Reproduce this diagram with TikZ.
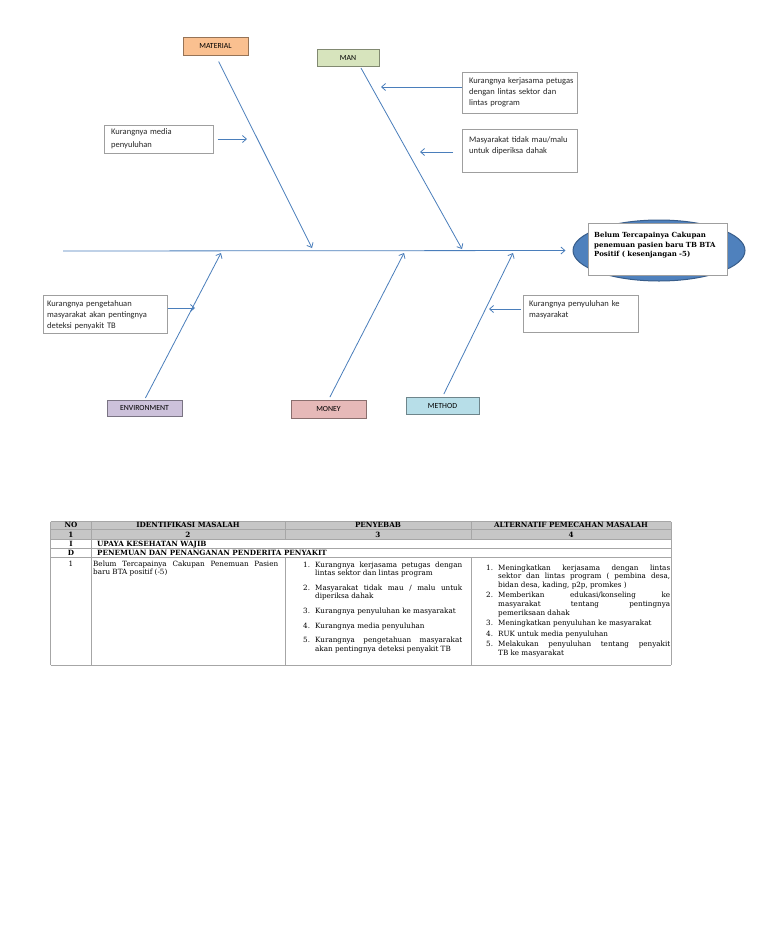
\documentclass[tikz,border=0pt]{standalone}
\usepackage{fontspec}
\setmainfont{Carlito}
\newfontfamily\tabfont{DejaVu Serif}
\usetikzlibrary{arrows.meta,shadows,shapes.geometric}
\definecolor{bonec}{HTML}{4A7EBB}
\definecolor{matfill}{HTML}{FAC090}
\definecolor{manfill}{HTML}{D7E4BD}
\definecolor{envfill}{HTML}{CCC1DA}
\definecolor{monfill}{HTML}{E6B9B8}
\definecolor{metfill}{HTML}{B7DEE8}
\definecolor{effill}{HTML}{4F81BD}
\definecolor{efdraw}{HTML}{385D8A}
\newcommand\lblsz{\fontsize{7.8}{9}\selectfont}
\newcommand\boxsz{\fontsize{8.5}{11}\selectfont}
\newcommand\tsz{\fontsize{7.2}{8.6}\selectfont}
\newcommand\titem[2]{\hangindent=12pt\hangafter=1\noindent\hbox to 12pt{#1\hfil}\ignorespaces#2\par}
\tikzset{
  bone/.style={draw=bonec, line width=0.8pt, -{Straight Barb[length=4pt,width=7pt]}},
  labelbox/.style={draw=#1!60!black, line width=0.5pt, fill=#1, font=\lblsz, inner sep=0pt,
    drop shadow={shadow xshift=1.3pt, shadow yshift=-1.3pt, fill=black!70, opacity=0.9}},
  txtbox/.style={draw=gray!75, line width=0.7pt, fill=white, inner sep=0pt, anchor=north west},
  boxtext/.style={anchor=base west, align=left, inner sep=0pt, font=\boxsz, text=black!85, text width=110},
  tline/.style={draw=gray!70, line width=0.8pt},
  ttext/.style={font=\tabfont\tsz, inner sep=0pt, anchor=base west},
  thead/.style={font=\tabfont\bfseries\tsz, inner sep=0pt, anchor=base},
}
\begin{document}
\begin{tikzpicture}[x=1pt,y=-1pt]
\useasboundingbox (0,0) rectangle (768,932);
\fill[white] (0,0) rectangle (768,932);

% ---------- effect ----------
\node[ellipse, draw=efdraw, line width=1pt, fill=effill, minimum width=172, minimum height=61, inner sep=0pt] (effect) at (659,250.5) {};
\node[txtbox, minimum width=139, minimum height=52] (effbox) at (588,223) {};
\node[anchor=base west, align=left, text width=132, inner sep=0pt, font=\tabfont\bfseries\fontsize{7}{9.7}\selectfont] (efftext) at (594,237.5)
  {Belum Tercapainya Cakupan\\penemuan pasien baru TB BTA\\Positif ( kesenjangan -5)};

% ---------- spine ----------
\coordinate (tail) at (63,251);
\draw[bone, shorten >=7pt] (tail) -- (effect.west);

% ---------- category labels ----------
\node[labelbox=matfill, minimum width=65, minimum height=18] (material) at (215.5,46) {MATERIAL};
\node[labelbox=manfill, minimum width=62, minimum height=17] (man) at (348,57.5) {MAN};
\node[labelbox=envfill, minimum width=75, minimum height=16] (env) at (144.5,408) {ENVIRONMENT};
\node[labelbox=monfill, minimum width=75, minimum height=18] (money) at (328.5,409) {MONEY};
\node[labelbox=metfill, minimum width=73, minimum height=17] (method) at (442.5,405.5) {METHOD};

% ---------- bones ----------
\coordinate (matE) at (312,248);
\coordinate (manE) at (462,249);
\coordinate (envE) at (221,253);
\coordinate (monE) at (404,253);
\coordinate (metE) at (513,253);
\draw[bone, shorten <=7pt] (material.south) -- (matE);
\draw[bone, shorten <=2pt] ([xshift=12pt]man.south) -- (manE);
\draw[bone, shorten <=2pt] (env.north) -- (envE);
\draw[bone, shorten <=3pt] (money.north) -- (monE);
\draw[bone, shorten <=3pt] (method.north) -- (metE);

% ---------- cause boxes ----------
\node[txtbox, minimum width=109, minimum height=28] (bmedia) at (104,125) {};
\node[boxtext, text width=98, font=\fontsize{8.5}{13}\selectfont] (tmedia) at (111,134.5) {Kurangnya media\\penyuluhan};

\node[txtbox, minimum width=115, minimum height=41] (bkerja) at (462,72) {};
\node[boxtext] (tkerja) at (469,83.5) {Kurangnya kerjasama petugas\\dengan lintas sektor dan\\lintas program};

\node[txtbox, minimum width=115, minimum height=43] (bmasy) at (462,129) {};
\node[boxtext] (tmasy) at (469,142.5) {Masyarakat tidak mau/malu\\untuk diperiksa dahak};

\node[txtbox, minimum width=124, minimum height=38] (bpeng) at (43,295) {};
\node[boxtext, text width=118] (tpeng) at (47,306.5) {Kurangnya pengetahuan\\masyarakat akan pentingnya\\deteksi penyakit TB};

\node[txtbox, minimum width=115, minimum height=37] (bpeny) at (523,295) {};
\node[boxtext, text width=108] (tpeny) at (529,306.5) {Kurangnya penyuluhan ke\\masyarakat};

% ---------- cause connectors ----------
\coordinate (matP) at (247,139);
\coordinate (manP1) at (381,87);
\coordinate (manP2) at (420,152);
\coordinate (envP) at (195,308);
\coordinate (metP) at (489,309);
\draw[bone, shorten <=4pt] (bmedia.east |- matP) -- (matP);
\draw[bone] (bkerja.west |- manP1) -- (manP1);
\draw[bone, shorten <=9pt] (bmasy.west |- manP2) -- (manP2);
\draw[bone] (bpeng.east |- envP) -- (envP);
\draw[bone, shorten <=2pt] (bpeny.west |- metP) -- (metP);

% ---------- table ----------
\fill[gray!45] (50.5,521.5) rectangle (671,539);
\foreach \yy in {521.5,529.5,539,548,557,665} \draw[tline] (50.5,\yy) -- (671,\yy);
\draw[tline] (50.5,521.5) -- (50.5,665);
\draw[tline] (91,521.5) -- (91,665);
\draw[tline] (671,521.5) -- (671,665);
\draw[tline] (285,521.5) -- (285,539);
\draw[tline] (471,521.5) -- (471,539);
\draw[tline] (285,557) -- (285,665);
\draw[tline] (471,557) -- (471,665);

\node[thead] (hno) at (71,527.8) {NO};
\node[thead] (hid) at (188,527.8) {IDENTIFIKASI MASALAH};
\node[thead] (hpen) at (378,527.8) {PENYEBAB};
\node[thead] (halt) at (571,527.8) {ALTERNATIF PEMECAHAN MASALAH};
\node[thead] (c1) at (71,537) {1};
\node[thead] (c2) at (188,537) {2};
\node[thead] (c3) at (378,537) {3};
\node[thead] (c4) at (571,537) {4};
\node[thead] (rI) at (71,546) {I};
\node[thead, anchor=base west] (rIt) at (97,546) {UPAYA KESEHATAN WAJIB};
\node[thead] (rD) at (71,555) {D};
\node[thead, anchor=base west] (rDt) at (97,555) {PENEMUAN DAN PENANGANAN PENDERITA PENYAKIT};

\node[ttext, anchor=base] (mno) at (71,566) {1};
\node[ttext, text width=185, align=justify] (mid) at (93,566)
  {Belum Tercapainya Cakupan Penemuan Pasien\linebreak baru BTA positif (-5)};

\node[ttext, text width=159, align=justify] (mpen) at (303,567) {%
\titem{1.}{Kurangnya kerjasama petugas dengan\linebreak lintas sektor dan lintas program}\vspace{6pt}
\titem{2.}{Masyarakat tidak mau / malu untuk\linebreak diperiksa dahak}\vspace{6pt}
\titem{3.}{Kurangnya penyuluhan ke masyarakat}\vspace{6pt}
\titem{4.}{Kurangnya media penyuluhan}\vspace{6pt}
\titem{5.}{Kurangnya pengetahuan masyarakat\linebreak akan pentingnya deteksi penyakit TB}};

\node[ttext, text width=184, align=justify] (malt) at (486,570) {%
\titem{1.}{Meningkatkan kerjasama dengan lintas\linebreak sektor dan lintas program ( pembina desa,\linebreak bidan desa, kading, p2p, promkes )}\vspace{2pt}
\titem{2.}{Memberikan edukasi/konseling ke\linebreak masyarakat tentang pentingnya\linebreak pemeriksaan dahak}\vspace{2pt}
\titem{3.}{Meningkatkan penyuluhan ke masyarakat}\vspace{2pt}
\titem{4.}{RUK untuk media penyuluhan}\vspace{2pt}
\titem{5.}{Melakukan penyuluhan tentang penyakit\linebreak TB ke masyarakat}};
\end{tikzpicture}
\end{document}
